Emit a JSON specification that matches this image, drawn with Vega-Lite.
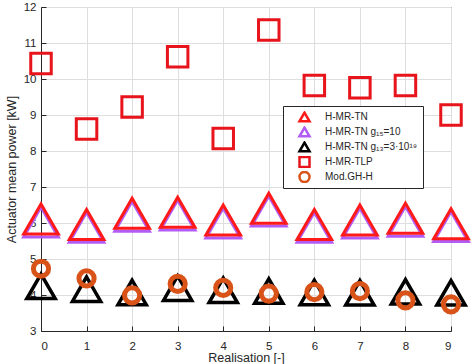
{
  "$schema": "https://vega.github.io/schema/vega-lite/v6.json",
  "width": 410,
  "height": 324,
  "autosize": "none",
  "padding": {"left": 41, "top": 7, "right": 23, "bottom": 33},
  "background": "white",
  "config": {
    "view": {"stroke": "#262626", "strokeWidth": 1},
    "font": "Liberation Sans",
    "axis": {
      "domainColor": "#262626",
      "tickColor": "#262626",
      "gridColor": "#dedede",
      "gridOpacity": 1,
      "labelColor": "#262626",
      "titleColor": "#262626",
      "labelFontSize": 11.5,
      "titleFontSize": 12.5,
      "titleFontWeight": "normal",
      "labelFont": "Liberation Sans",
      "titleFont": "Liberation Sans"
    }
  },
  "data": {
    "values": [
      {"x": 0, "y": 10.43, "series": "H-MR-TLP"},
      {"x": 1, "y": 8.61, "series": "H-MR-TLP"},
      {"x": 2, "y": 9.22, "series": "H-MR-TLP"},
      {"x": 3, "y": 10.62, "series": "H-MR-TLP"},
      {"x": 4, "y": 8.35, "series": "H-MR-TLP"},
      {"x": 5, "y": 11.36, "series": "H-MR-TLP"},
      {"x": 6, "y": 9.82, "series": "H-MR-TLP"},
      {"x": 7, "y": 9.76, "series": "H-MR-TLP"},
      {"x": 8, "y": 9.82, "series": "H-MR-TLP"},
      {"x": 9, "y": 9.0, "series": "H-MR-TLP"},
      {"x": 0, "y": 6.11, "series": "H-MR-TN"},
      {"x": 1, "y": 5.96, "series": "H-MR-TN"},
      {"x": 2, "y": 6.27, "series": "H-MR-TN"},
      {"x": 3, "y": 6.3, "series": "H-MR-TN"},
      {"x": 4, "y": 6.08, "series": "H-MR-TN"},
      {"x": 5, "y": 6.41, "series": "H-MR-TN"},
      {"x": 6, "y": 5.96, "series": "H-MR-TN"},
      {"x": 7, "y": 6.08, "series": "H-MR-TN"},
      {"x": 8, "y": 6.13, "series": "H-MR-TN"},
      {"x": 9, "y": 5.98, "series": "H-MR-TN"},
      {"x": 0, "y": 6.03, "series": "H-MR-TN g₁₅=10"},
      {"x": 1, "y": 5.88, "series": "H-MR-TN g₁₅=10"},
      {"x": 2, "y": 6.19, "series": "H-MR-TN g₁₅=10"},
      {"x": 3, "y": 6.22, "series": "H-MR-TN g₁₅=10"},
      {"x": 4, "y": 6.0, "series": "H-MR-TN g₁₅=10"},
      {"x": 5, "y": 6.33, "series": "H-MR-TN g₁₅=10"},
      {"x": 6, "y": 5.88, "series": "H-MR-TN g₁₅=10"},
      {"x": 7, "y": 6.0, "series": "H-MR-TN g₁₅=10"},
      {"x": 8, "y": 6.05, "series": "H-MR-TN g₁₅=10"},
      {"x": 9, "y": 5.9, "series": "H-MR-TN g₁₅=10"},
      {"x": 0, "y": 4.24, "series": "H-MR-TN g₁₃=3·10¹⁹"},
      {"x": 1, "y": 4.16, "series": "H-MR-TN g₁₃=3·10¹⁹"},
      {"x": 2, "y": 4.07, "series": "H-MR-TN g₁₃=3·10¹⁹"},
      {"x": 3, "y": 4.19, "series": "H-MR-TN g₁₃=3·10¹⁹"},
      {"x": 4, "y": 4.13, "series": "H-MR-TN g₁₃=3·10¹⁹"},
      {"x": 5, "y": 4.11, "series": "H-MR-TN g₁₃=3·10¹⁹"},
      {"x": 6, "y": 4.07, "series": "H-MR-TN g₁₃=3·10¹⁹"},
      {"x": 7, "y": 4.06, "series": "H-MR-TN g₁₃=3·10¹⁹"},
      {"x": 8, "y": 4.09, "series": "H-MR-TN g₁₃=3·10¹⁹"},
      {"x": 9, "y": 4.06, "series": "H-MR-TN g₁₃=3·10¹⁹"},
      {"x": 0, "y": 4.73, "series": "Mod.GH-H"},
      {"x": 1, "y": 4.46, "series": "Mod.GH-H"},
      {"x": 2, "y": 3.99, "series": "Mod.GH-H"},
      {"x": 3, "y": 4.31, "series": "Mod.GH-H"},
      {"x": 4, "y": 4.2, "series": "Mod.GH-H"},
      {"x": 5, "y": 4.04, "series": "Mod.GH-H"},
      {"x": 6, "y": 4.08, "series": "Mod.GH-H"},
      {"x": 7, "y": 4.11, "series": "Mod.GH-H"},
      {"x": 8, "y": 3.85, "series": "Mod.GH-H"},
      {"x": 9, "y": 3.74, "series": "Mod.GH-H"}
    ]
  },
  "encoding": {
    "x": {
      "field": "x", "type": "quantitative",
      "scale": {"domain": [0, 9], "nice": false, "zero": false},
      "axis": {"title": "Realisation [-]", "values": [0,1,2,3,4,5,6,7,8,9], "grid": true, "tickSize": -5, "labelPadding": 14, "titlePadding": 0}
    },
    "y": {
      "field": "y", "type": "quantitative",
      "scale": {"domain": [3, 12], "nice": false, "zero": false},
      "axis": {"title": "Actuator mean power [kW]", "values": [3,4,5,6,7,8,9,10,11,12], "grid": true, "tickSize": -5, "labelPadding": 10, "titlePadding": 5}
    },
    "color": {
      "field": "series", "type": "nominal",
      "scale": {
        "domain": ["H-MR-TN", "H-MR-TN g₁₅=10", "H-MR-TN g₁₃=3·10¹⁹", "H-MR-TLP", "Mod.GH-H"],
        "range": ["#ff1a1a", "#b35cf5", "#000000", "#e8141c", "#d95319"]
      },
      "legend": {
        "title": null,
        "orient": "none",
        "legendX": 242,
        "legendY": 99,
        "direction": "vertical",
        "fillColor": "white",
        "strokeColor": "#262626",
        "padding": 5,
        "symbolSize": 100,
        "symbolStrokeWidth": 2.5,
        "symbolOffset": 10,
        "labelOffset": 14,
        "labelFontSize": 10,
        "labelColor": "#262626",
        "labelFont": "Liberation Sans",
        "clipHeight": 12,
        "rowPadding": 3,
        "labelLimit": 200
      }
    },
    "shape": {
      "field": "series", "type": "nominal",
      "scale": {
        "domain": ["H-MR-TN", "H-MR-TN g₁₅=10", "H-MR-TN g₁₃=3·10¹⁹", "H-MR-TLP", "Mod.GH-H"],
        "range": ["triangle-up", "triangle-up", "triangle-up", "square", "circle"]
      }
    }
  },
  "layer": [
    {"transform": [{"filter": "datum.series == 'H-MR-TN g₁₅=10'"}], "mark": {"type": "point", "filled": false, "size": 1200, "strokeWidth": 3, "opacity": 1}},
    {"transform": [{"filter": "datum.series == 'H-MR-TN'"}], "mark": {"type": "point", "filled": false, "size": 1200, "strokeWidth": 3, "opacity": 1}},
    {"transform": [{"filter": "datum.series == 'H-MR-TN g₁₃=3·10¹⁹'"}], "mark": {"type": "point", "filled": false, "size": 800, "strokeWidth": 3.5, "opacity": 1}},
    {"transform": [{"filter": "datum.series == 'H-MR-TLP'"}], "mark": {"type": "point", "filled": false, "size": 420, "strokeWidth": 3, "opacity": 1}},
    {"transform": [{"filter": "datum.series == 'Mod.GH-H'"}], "mark": {"type": "point", "filled": false, "size": 230, "strokeWidth": 5, "opacity": 1}}
  ]
}
